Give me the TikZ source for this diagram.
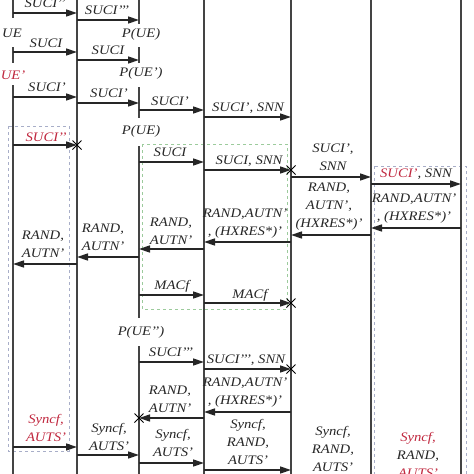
\documentclass[tikz,border=0pt]{standalone}
\usepackage{fontspec}
\setmainfont{Liberation Serif}[FakeStretch=1.13]
\usetikzlibrary{arrows.meta}
\definecolor{life}{HTML}{444444}
\definecolor{redt}{HTML}{C0283F}
\definecolor{boxb}{HTML}{A8AEC8}
\definecolor{boxg}{HTML}{9CCB9C}
\tikzset{
 lifeline/.style={draw=life, line width=1.5pt},
 msg/.style={draw=black!85, line width=1.4pt, -{Triangle[length=11pt,width=7pt]}},
 lab/.style={font=\fontsize{13}{18}\selectfont\itshape, align=center, inner sep=0pt, text=black!85},
 crossmark/.style={draw=black, line width=0.8pt},
 bluebox/.style={draw=boxb, dashed, line width=0.8pt},
 greenbox/.style={draw=boxg, dashed, line width=0.8pt},
}
\newcommand{\mymsg}[3]{\draw[msg] (#1,#3) -- (#2,#3);}
\newcommand{\mycross}[2]{\draw[crossmark] (#1-4.5,#2-4.5) -- (#1+4.5,#2+4.5) (#1-4.5,#2+4.5) -- (#1+4.5,#2-4.5);}
\begin{document}
\begin{tikzpicture}[x=1pt,y=-1pt]
\useasboundingbox (0,0) rectangle (474,474);
% dashed boxes
\draw[bluebox] (8,126) rectangle (69,451);
\draw[greenbox] (142,144) rectangle (287,309);
\draw[bluebox] (374,166) rectangle (466,490);
% lifelines
\draw[lifeline] (13,0) -- (13,18) (13,47) -- (13,63) (13,85) -- (13,474);
\draw[lifeline] (77,0) -- (77,474);
\draw[lifeline] (139,0) -- (139,24) (139,47) -- (139,63) (139,87) -- (139,118) (139,146) -- (139,318) (139,346) -- (139,474);
\draw[lifeline] (204,0) -- (204,474);
\draw[lifeline] (291,0) -- (291,474);
\draw[lifeline] (371,0) -- (371,474);
\draw[lifeline] (461,0) -- (461,474);
% entity labels
\node[lab] (ue) at (12,33) {UE};
\node[lab, text=redt] (ue1) at (13,75) {UE'};
\node[lab] (p1) at (141,34) {P(UE)};
\node[lab] (p2) at (141,73) {P(UE')};
\node[lab] (p3) at (141,131) {P(UE)};
\node[lab] (p4) at (141,332) {P(UE'{}')};
% row 1
\mymsg{13}{77}{13}  \node[lab] (a1) at (45,3) {SUCI'{}'};
\mymsg{77}{139}{20} \node[lab] (a2) at (107,10) {SUCI'{}'{}'};
% row 2
\mymsg{13}{77}{52}  \node[lab] (b1) at (46,43) {SUCI};
\mymsg{77}{139}{60} \node[lab] (b2) at (108,50) {SUCI};
% row 3
\mymsg{13}{77}{97}   \node[lab] (c1) at (47,87) {SUCI'};
\mymsg{77}{139}{103} \node[lab] (c2) at (109,93) {SUCI'};
\mymsg{139}{204}{110} \node[lab] (c3) at (170,101) {SUCI'};
\mymsg{204}{291}{117} \node[lab] (c4) at (248,108) {SUCI', SNN};
% row 4
\mymsg{13}{77}{145} \mycross{77}{145} \node[lab, text=redt] (d1) at (46,137) {SUCI'{}'};
\mymsg{139}{204}{162} \node[lab] (d2) at (170,152) {SUCI};
\mymsg{204}{291}{170} \mycross{291}{170} \node[lab] (d3) at (249,161) {SUCI, SNN};
\mymsg{291}{371}{177} \node[lab] (d4) at (333,157) {SUCI',\\SNN};
\mymsg{371}{461}{184} \node[lab] (d5) at (416,174) {{\color{redt}SUCI'}, SNN};
% responses
\mymsg{461}{371}{228} \node[lab] (e1) at (414,209) {RAND,AUTN'\\, (HXRES*)'};
\mymsg{371}{291}{235} \node[lab] (e2) at (329,206.5) {RAND,\\AUTN',\\(HXRES*)'};
\mymsg{291}{204}{242} \node[lab] (e3) at (245,223.5) {RAND,AUTN'\\, (HXRES*)'};
\mymsg{204}{139}{249} \node[lab] (e4) at (171,231) {RAND,\\AUTN'};
\mymsg{139}{77}{257}  \node[lab] (e5) at (103,237) {RAND,\\AUTN'};
\mymsg{77}{13}{264}   \node[lab] (e6) at (43,244) {RAND,\\AUTN'};
% MACf
\mymsg{139}{204}{295} \node[lab] (f1) at (172,286) {MACf};
\mymsg{204}{291}{303} \mycross{291}{303} \node[lab] (f2) at (250,295) {MACf};
% third attempt
\mymsg{139}{204}{362} \node[lab] (g1) at (171,352) {SUCI'{}'{}'};
\mymsg{204}{291}{369} \mycross{291}{369} \node[lab] (g2) at (246,360) {SUCI'{}'{}', SNN};
\mymsg{291}{204}{412} \node[lab] (g3) at (245,392.5) {RAND,AUTN'\\, (HXRES*)'};
\mymsg{204}{139}{418} \mycross{139}{418} \node[lab] (g4) at (170,399) {RAND,\\AUTN'};
% sync failure
\mymsg{13}{77}{447}   \node[lab, text=redt] (h1) at (46,428) {Syncf,\\AUTS'};
\mymsg{77}{139}{455}  \node[lab] (h2) at (109,436.5) {Syncf,\\AUTS'};
\mymsg{139}{204}{463} \node[lab] (h3) at (173,442.5) {Syncf,\\AUTS'};
\mymsg{204}{291}{470} \node[lab] (h4) at (248,441.5) {Syncf,\\RAND,\\AUTS'};
\node[lab] (h5) at (333,448.5) {Syncf,\\RAND,\\AUTS'};
\node[lab] (h6) at (418,455) {{\color{redt}Syncf,}\\RAND,\\{\color{redt}AUTS'}};
\end{tikzpicture}
\end{document}
